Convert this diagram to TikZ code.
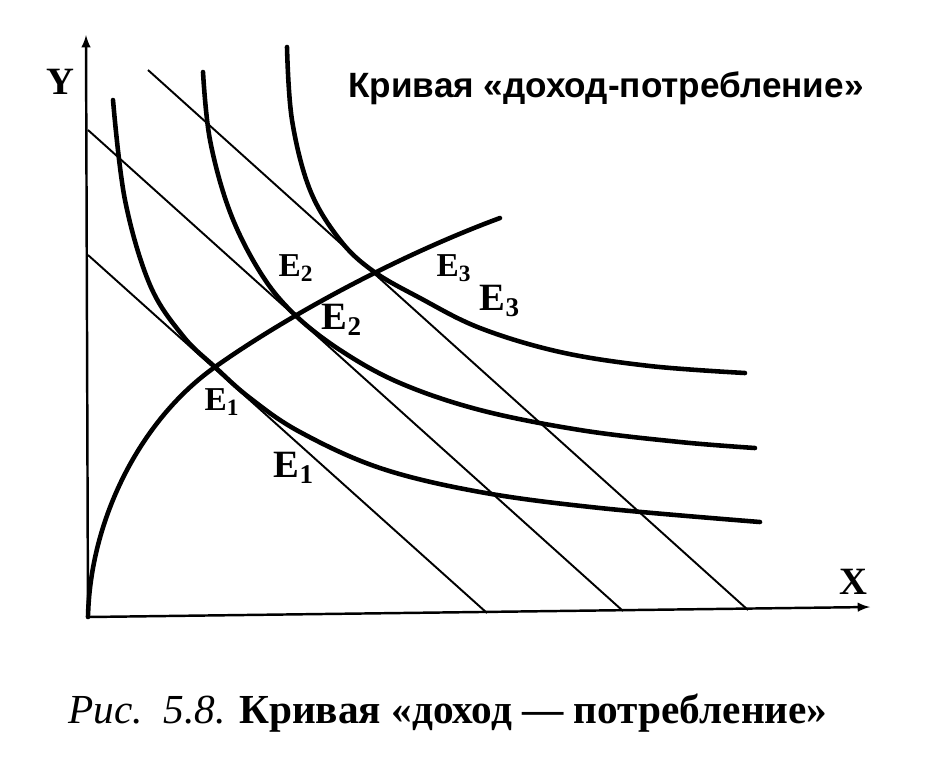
\documentclass[tikz,border=0pt]{standalone}
\usepackage{fontspec}
\setmainfont{Liberation Serif}
\newfontfamily\headfont{Liberation Sans}
\usepackage{tikz}
\usetikzlibrary{arrows}

\begin{document}
\begin{tikzpicture}[x=0.02cm, y=-0.02cm,
  axis/.style={line width=1.4pt, -latex},
  budget/.style={line width=1.1pt},
  indiff/.style={line width=2.6pt, line cap=round},
  elabel/.style={font=\bfseries\fontsize{19}{19}\selectfont, inner sep=0pt},
  elarge/.style={font=\bfseries\fontsize{22}{22}\selectfont, inner sep=0pt}]
 \useasboundingbox (0,0) rectangle (940,779);
 \coordinate (o) at (88,617);
 \coordinate (ytop) at (86,35);
 \coordinate (xend) at (870,607);
 \draw[axis] (o) -- (ytop);
 \draw[axis] (o) -- (xend);
 \node (ylab) at (60,82) {\bfseries\fontsize{22}{22}\selectfont Y};
 \node (xlab) at (853,582) {\bfseries\fontsize{22}{22}\selectfont X};
 % budget lines
 \draw[budget] (88,255) -- (487,613);
 \draw[budget] (88,130) -- (623,611);
 \draw[budget] (148,70) -- (748,610);
 % indifference curves
 \draw[indiff] plot[smooth, tension=0.6] coordinates {(113,100) (125,200) (150,285) (183,336) (215,367) (250,398) (300,432) (380,468) (480,492) (600,508) (760,522)};
 \draw[indiff] plot[smooth, tension=0.6] coordinates {(203,72) (210,140) (230,212) (260,272) (293,313) (340,350) (400,383) (480,410) (580,430) (680,442) (755,448)};
 \draw[indiff] plot[smooth, tension=0.6] coordinates {(287,47) (292,120) (310,190) (340,240) (373,271) (420,298) (480,328) (560,352) (650,366) (745,373)};
 % income-consumption curve
 \coordinate (e1) at (215,367);
 \coordinate (icc) at (500,218);
 \draw[indiff] (o) .. controls (90,520) and (140,420) .. (e1)
   .. controls (290,314) and (400,255) .. (icc);
 \node[elabel] (e1a) at (222,402) {E\textsubscript{1}};
 \node[elarge] (e1b) at (294,468) {E\textsubscript{1}};
 \node[elabel] (e2a) at (296,268) {E\textsubscript{2}};
 \node[elarge] (e2b) at (342,320) {E\textsubscript{2}};
 \node[elabel] (e3a) at (454,268) {E\textsubscript{3}};
 \node[elarge] (e3b) at (500,301) {E\textsubscript{3}};
 \node (title) at (606,88) {\headfont\bfseries\fontsize{20}{20}\selectfont Кривая «доход-потребление»};
 \node (caption) at (448,713) {\fontsize{23.5}{23.5}\selectfont\textit{Рис.\ \ 5.8.} \textbf{Кривая «доход — потребление»}};
\end{tikzpicture}
\end{document}
